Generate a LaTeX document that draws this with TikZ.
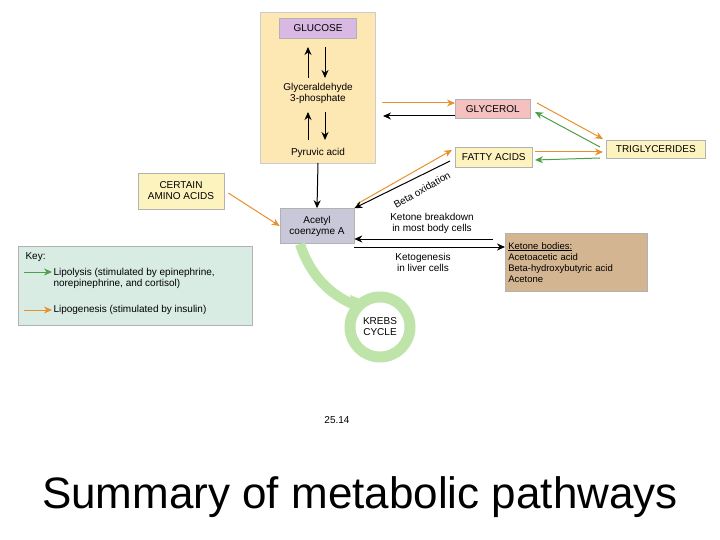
\documentclass[tikz,border=0pt]{standalone}
\usepackage{fontspec}
\setmainfont{Liberation Sans}
\usetikzlibrary{arrows.meta}
\definecolor{org}{HTML}{E8912C}
\definecolor{grn}{HTML}{4E9E4A}
\definecolor{pale}{HTML}{FDE7B3}
\definecolor{lyel}{HTML}{FDF3BE}
\definecolor{purp}{RGB}{217,184,228}
\definecolor{pinkc}{RGB}{245,192,192}
\definecolor{acac}{RGB}{200,200,216}
\definecolor{brn}{RGB}{212,181,145}
\definecolor{keyc}{RGB}{216,236,228}
\definecolor{krebs}{RGB}{190,228,170}
\tikzset{
  box/.style={draw=gray!60,line width=0.6pt,inner sep=2pt,font=\fontsize{10}{11}\selectfont,align=center},
  bk/.style={-{Stealth[length=8pt,width=7pt]},line width=1pt},
  og/.style={-{Stealth[length=8pt,width=7pt]},line width=1pt,org},
  gr/.style={-{Stealth[length=8pt,width=7pt]},line width=1pt,grn},
  lbl/.style={font=\fontsize{10}{11}\selectfont,align=center}
}
\begin{document}
\begin{tikzpicture}[x=1pt,y=-1pt]
\useasboundingbox (0,0) rectangle (720,540);
\fill[pale,draw=gray!40] (260,12) rectangle (375,163);
\node[box,fill=purp,minimum width=77,minimum height=20] (glu) at (318,28) {GLUCOSE};
\node[lbl] (g3p) at (318,93) {Glyceraldehyde\\3-phosphate};
\node[lbl] (pyr) at (318,153) {Pyruvic acid};
\coordinate (u1) at (308,78); \coordinate (u2) at (308,47);
\coordinate (d1) at (325,47); \coordinate (d2) at (325,78);
\draw[bk] (u1) -- (u2); \draw[bk] (d1) -- (d2);
\coordinate (u3) at (308,140); \coordinate (u4) at (308,112);
\coordinate (d3) at (325,112); \coordinate (d4) at (325,140);
\draw[bk] (u3) -- (u4); \draw[bk] (d3) -- (d4);
\node[box,fill=acac,minimum width=74,minimum height=35] (aca) at (317,226) {Acetyl\\coenzyme A};
\draw[bk] (318,163) -- (aca.north);
\node[box,fill=pinkc,minimum width=75,minimum height=19,anchor=west] (gly) at (455,109) {GLYCEROL};
\node[box,fill=lyel,minimum width=77,minimum height=20,anchor=west] (fa) at (455,157) {FATTY ACIDS};
\node[box,fill=lyel,minimum width=99,minimum height=18,anchor=west] (tg) at (606,149) {TRIGLYCERIDES};
\coordinate (yb1) at (382,103); \coordinate (yb2) at (383,116);
\draw[og] (yb1) -- (gly.west|-yb1);
\draw[bk] (gly.west|-yb2) -- (yb2);
\draw[og] (537,103) -- (603,139);
\draw[gr] (600,147) -- (535,112);
\draw[og] (535,152) -- (603,152);
\draw[gr] (600,158) -- (535,160);
\draw[og] (357,204) -- (452,150);
\draw[bk] (450,161) -- (aca.north east);
\node[lbl,rotate=30] (beta) at (422,190) {Beta oxidation};
\node[box,fill=brn,minimum width=142,minimum height=58,anchor=north west,align=left,text width=136,font=\fontsize{9.5}{11}\selectfont] (kb) at (505,233) {\underline{Ketone bodies:}\\Acetoacetic acid\\Beta-hydroxybutyric acid\\Acetone};
\node[lbl] (kbr) at (432,223) {Ketone breakdown\\in most body cells};
\node[lbl] (kg) at (423,262) {Ketogenesis\\in liver cells};
\draw[bk] (493,239) -- (aca.east|-0,239);
\draw[bk] (aca.east|-0,247) -- (kb.west|-0,247);
\node[box,fill=lyel,minimum width=86,minimum height=36] (am) at (181,191) {CERTAIN\\AMINO ACIDS};
\draw[og] ([shift={(4,2)}]am.east) -- (aca.west);
% Krebs
\draw[line width=10pt,krebs] (300,244) .. controls (310,275) and (330,295) .. (355,305);
\fill[krebs] (350,295) -- (370,303) -- (354,315) -- cycle;
\draw[line width=11pt,krebs] (380,327) circle (30);
\node[lbl,fill=white,circle,inner sep=0pt,minimum size=46] (kr) at (380,327) {KREBS\\CYCLE};
% key
\node[box,fill=keyc,minimum width=234,minimum height=79,anchor=north west] (key) at (18,246) {};
\node[lbl,anchor=west] (kt) at (22,257) {Key:};
\coordinate (k1) at (24,272); \coordinate (k2) at (52,272);
\draw[gr] (k1) -- (k2);
\node[lbl,anchor=north west,align=left] (kl) at (50,265) {Lipolysis (stimulated by epinephrine,\\norepinephrine, and cortisol)};
\coordinate (k3) at (24,310); \coordinate (k4) at (52,310);
\draw[og] (k3) -- (k4);
\node[lbl,anchor=west] (kg2) at (50,310) {Lipogenesis (stimulated by insulin)};
\node[lbl] (fig) at (337,420) {25.14};
\node[font=\fontsize{44}{50}\selectfont] (title) at (360,497) {Summary of metabolic pathways};
\end{tikzpicture}
\end{document}
